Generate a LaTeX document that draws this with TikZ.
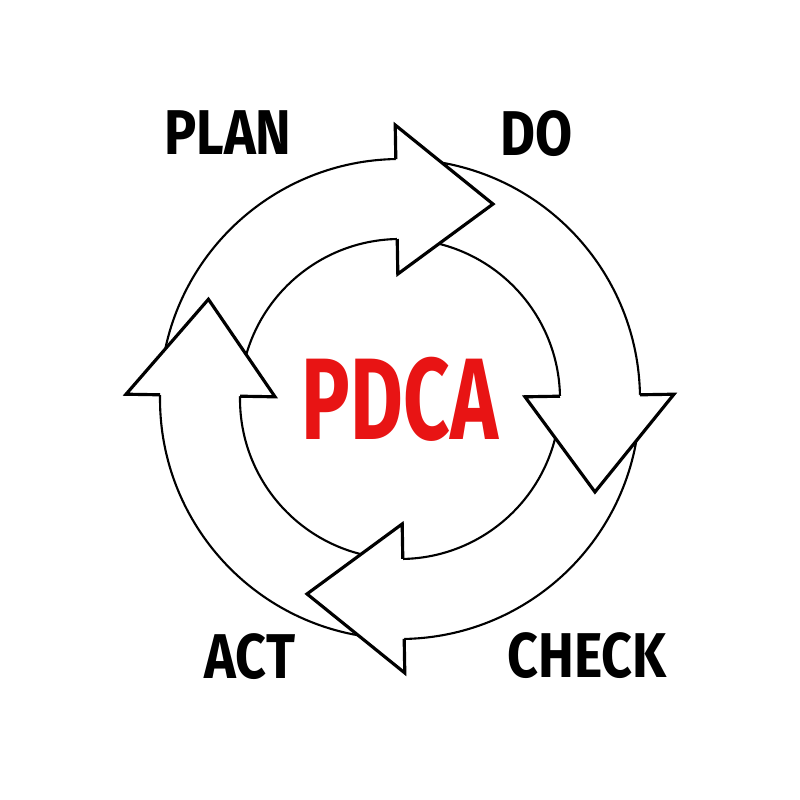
\documentclass[tikz,border=0pt]{standalone}
\usepackage{fontspec}
\setmainfont{Fira Sans}
\definecolor{pdcared}{RGB}{232,20,20}
\tikzset{
  band/.style={line width=0.6pt},
  head/.style={line width=0.9pt, line join=miter},
  stage/.style={font=\fontsize{18}{18}\selectfont\bfseries, xscale=0.85, inner sep=0pt},
  title/.style={font=\fontsize{33}{33}\selectfont\bfseries, text=pdcared, xscale=0.7, inner sep=0pt}
}
\begin{document}
\begin{tikzpicture}
  \useasboundingbox (0,0) rectangle (8,8);
  \fill[white] (0,0) rectangle (8,8);
  % centre of the cycle
  \coordinate (O) at (4.00,4.01);
  \begin{scope}[shift={(O)}]
    % bands (tails end under the heads)
    \foreach \a in {91,1,-89,179}{
      \draw[band] (\a+82:2.4) arc[start angle=\a+82, end angle=\a, radius=2.4];
      \draw[band] (\a+82:1.6) arc[start angle=\a+82, end angle=\a, radius=1.6];
    }
    % arrow heads
    \foreach \a in {91,1,-89,179}{
      \fill[white] (\a:2.74) -- (\a-26.5:2.16) -- (\a:1.25) -- cycle;
      \draw[head] (\a:2.4) -- (\a:2.74) -- (\a-26.5:2.16) -- (\a:1.25) -- (\a:1.6);
    }
  \end{scope}
  % labels
  \node[stage] (plan)  at (2.28,6.67) {PLAN};
  \node[stage] (do)    at (5.37,6.66) {DO};
  \node[stage] (check) at (5.87,1.44) {CHECK};
  \node[stage] (act)   at (2.50,1.43) {ACT};
  \node[title] (pdca)  at (O) {PDCA};
\end{tikzpicture}
\end{document}
